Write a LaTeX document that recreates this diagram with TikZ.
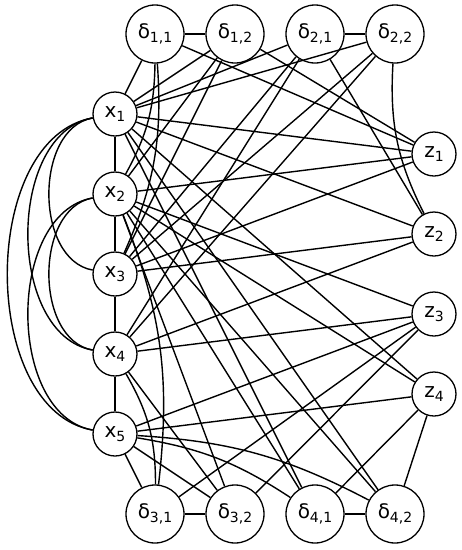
\documentclass[tikz,border=0pt]{standalone}
\usepackage{fontspec}
\setmainfont{DejaVu Sans}
\newcommand{\mysub}[1]{\raisebox{-4pt}{\fontsize{14}{14}\selectfont #1}}
\begin{document}
\begin{tikzpicture}[x=1pt,y=-1pt,
  vnode/.style={circle,draw,line width=1.3pt,minimum size=44pt,inner sep=0pt,font=\fontsize{20}{24}\selectfont},
  dnode/.style={circle,draw,line width=1.3pt,minimum size=58pt,inner sep=0pt,font=\fontsize{20}{24}\selectfont},
  edge/.style={line width=1.4pt}]
\useasboundingbox (0,0) rectangle (462,550);
% delta nodes top
\node[dnode] (d11) at (155,34) {δ\mysub{1,1}};
\node[dnode] (d12) at (235,34) {δ\mysub{1,2}};
\node[dnode] (d21) at (315,34) {δ\mysub{2,1}};
\node[dnode] (d22) at (395,34) {δ\mysub{2,2}};
% delta nodes bottom
\node[dnode] (d31) at (155,514) {δ\mysub{3,1}};
\node[dnode] (d32) at (235,514) {δ\mysub{3,2}};
\node[dnode] (d41) at (315,514) {δ\mysub{4,1}};
\node[dnode] (d42) at (395,514) {δ\mysub{4,2}};
% x nodes
\node[vnode] (x1) at (115,114) {x\mysub{1}};
\node[vnode] (x2) at (115,194) {x\mysub{2}};
\node[vnode] (x3) at (115,274) {x\mysub{3}};
\node[vnode] (x4) at (115,354) {x\mysub{4}};
\node[vnode] (x5) at (115,434) {x\mysub{5}};
% z nodes
\node[vnode] (z1) at (434,154) {z\mysub{1}};
\node[vnode] (z2) at (434,234) {z\mysub{2}};
\node[vnode] (z3) at (434,314) {z\mysub{3}};
\node[vnode] (z4) at (434,394) {z\mysub{4}};
% x-x edges
\draw[edge] (x1) -- (x2);
\draw[edge] (x2) -- (x3);
\draw[edge] (x3) -- (x4);
\draw[edge] (x4) -- (x5);
\draw[edge] (x1) to[bend right=80] (x3);
\draw[edge] (x1) to[bend right=80,looseness=0.97] (x4);
\draw[edge] (x1) to[bend right=80,looseness=0.95] (x5);
\draw[edge] (x2) to[bend right=80] (x4);
\draw[edge] (x2) to[bend right=80,looseness=0.97] (x5);
% delta-delta
\draw[edge] (d11) -- (d12);
\draw[edge] (d21) -- (d22);
\draw[edge] (d31) -- (d32);
\draw[edge] (d41) -- (d42);
% z-delta
\draw[edge] (z1) -- (d11);
\draw[edge] (z1) -- (d12);
\draw[edge] (z2) -- (d21);
\draw[edge] (d22) to[bend right=15] (z2);
\draw[edge] (z3) -- (d31);
\draw[edge] (z3) -- (d32);
\draw[edge] (z4) -- (d41);
\draw[edge] (z4) -- (d42);
% x-z
\draw[edge] (x1) -- (z1);
\draw[edge] (x1) -- (z2);
\draw[edge] (x1) -- (z4);
\draw[edge] (x2) -- (z1);
\draw[edge] (x2) -- (z3);
\draw[edge] (x2) -- (z4);
\draw[edge] (x3) -- (z1);
\draw[edge] (x3) -- (z2);
\draw[edge] (x4) -- (z2);
\draw[edge] (x4) -- (z3);
\draw[edge] (x5) -- (z3);
\draw[edge] (x5) -- (z4);
% x-delta clause 1
\draw[edge] (x1) -- (d11);
\draw[edge] (x1) -- (d12);
\draw[edge] (d11) to[bend left=14] (x2);
\draw[edge] (x2) -- (d12);
\draw[edge] (d11) to[bend left=14] (x3);
\draw[edge] (x3) -- (d12);
% clause 2
\draw[edge] (x1) -- (d21);
\draw[edge] (x1) -- (d22);
\draw[edge] (x3) -- (d21);
\draw[edge] (x3) -- (d22);
\draw[edge] (x4) -- (d21);
\draw[edge] (x4) -- (d22);
% clause 3
\draw[edge] (x2) to[bend left=14] (d31);
\draw[edge] (x2) -- (d32);
\draw[edge] (x4) to[bend left=15] (d31);
\draw[edge] (x4) -- (d32);
\draw[edge] (x5) -- (d31);
\draw[edge] (x5) -- (d32);
% clause 4
\draw[edge] (x1) -- (d41);
\draw[edge] (x1) -- (d42);
\draw[edge] (x2) -- (d41);
\draw[edge] (x2) -- (d42);
\draw[edge] (x5) to[bend left=12] (d41);
\draw[edge] (x5) to[bend left=12] (d42);
\end{tikzpicture}
\end{document}
